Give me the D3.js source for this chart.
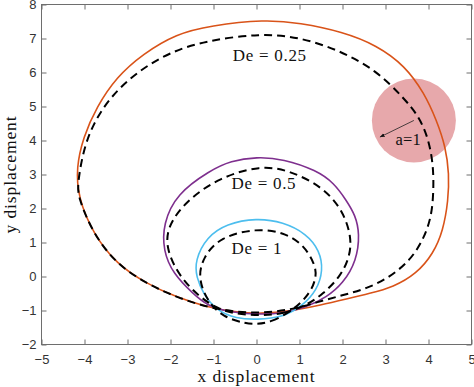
<!DOCTYPE html>
<html><head><meta charset="utf-8">
<script src="https://cdn.jsdelivr.net/npm/d3@7"></script>
<style>body{margin:0;background:#fff} svg{display:block}</style>
</head><body>
<script>
// ---- data ----
const xTicks = [-5,-4,-3,-2,-1,0,1,2,3,4,5];
const yTicks = [-2,-1,0,1,2,3,4,5,6,7,8];
const xLabel = "x displacement";
const yLabel = "y displacement";

// De = 0.25 (solid, orange)
const de025Solid = [[0.1,-1.1],[0.8,-1.02],[1.5,-0.84],[2.1,-0.66],[2.63,-0.5],[3.18,-0.31],[3.72,0.08],[4.11,0.67],[4.34,1.35],[4.46,2.24],[4.48,3.02],[4.4,3.8],[4.19,4.59],[3.9,5.4],[3.45,6.2],[2.8,6.8],[2.0,7.2],[1.0,7.46],[0.2,7.56],[-1.08,7.38],[-1.86,7.14],[-2.64,6.55],[-3.26,5.86],[-3.72,4.98],[-4.03,4.1],[-4.19,3.21],[-4.15,2.33],[-3.8,1.26],[-3.26,0.37],[-2.56,-0.21],[-1.86,-0.61],[-1.16,-0.9],[-0.5,-1.05]];
// De = 0.25 (dashed, black)
const de025Dashed = [[0.1,-1.08],[0.8,-0.98],[1.4,-0.76],[2.0,-0.55],[2.56,-0.36],[3.1,-0.02],[3.57,0.47],[3.87,1.06],[4.07,1.74],[4.12,2.53],[4.11,3.31],[3.99,4.1],[3.76,4.74],[3.41,5.27],[2.79,6.06],[1.94,6.65],[1.0,7.04],[0.1,7.15],[-1.16,6.94],[-2.02,6.6],[-2.79,6.01],[-3.41,5.27],[-3.8,4.49],[-4.03,3.71],[-4.16,2.73],[-4.15,2.33],[-3.8,1.26],[-3.26,0.37],[-2.56,-0.21],[-1.86,-0.61],[-1.16,-0.9],[-0.5,-1.04]];
// De = 0.5 (solid, purple)
const de05Solid = [[0.1,-1.12],[0.62,-1.08],[1.16,-0.9],[1.63,-0.61],[2.01,-0.21],[2.33,0.47],[2.4,1.26],[2.3,1.8],[2.09,2.24],[1.8,2.75],[1.4,3.12],[0.62,3.46],[0.0,3.52],[-0.6,3.4],[-1.08,3.12],[-1.86,2.43],[-2.17,1.55],[-2.17,0.76],[-1.94,0.08],[-1.47,-0.51],[-1.16,-0.85],[-0.6,-1.06]];
// De = 0.5 (dashed, black)
const de05Dashed = [[0.1,-1.15],[0.62,-1.1],[1.16,-0.85],[1.55,-0.51],[1.94,-0.02],[2.17,0.57],[2.21,1.16],[2.01,1.94],[1.55,2.63],[0.77,3.12],[0.1,3.27],[-0.85,2.92],[-1.63,2.24],[-2.09,1.45],[-2.09,0.76],[-1.78,-0.02],[-1.32,-0.61],[-0.9,-0.95],[-0.5,-1.1]];
// De = 1 (solid, cyan)
const de1Solid = [[0.0,-1.27],[0.62,-1.2],[1.08,-0.85],[1.4,-0.41],[1.55,0.18],[1.47,0.76],[1.16,1.26],[0.62,1.6],[0.0,1.72],[-0.7,1.55],[-1.16,1.16],[-1.43,0.47],[-1.4,-0.02],[-1.24,-0.51],[-0.93,-1.0],[-0.47,-1.24]];
// De = 1 (dashed, black)
const de1Dashed = [[0.0,-1.4],[0.31,-1.36],[0.85,-1.0],[1.24,-0.51],[1.4,-0.02],[1.36,0.37],[1.08,0.96],[0.62,1.3],[0.0,1.42],[-0.85,1.16],[-1.24,0.57],[-1.36,-0.02],[-1.16,-0.7],[-0.78,-1.2],[-0.23,-1.39]];

const curveLabels = [{text:"De = 0.25", x:-0.55, y:6.35},{text:"De = 0.5", x:-0.58, y:2.58},{text:"De = 1", x:-0.58, y:0.67}];
const particleCenter = [3.66, 4.59];
const particleRadius = 1;
const arrowEnd = [2.87, 4.1];
const particleLabel = {text:"a=1", x:3.53, y:3.88};

// ---- layout ----
const W = 474, H = 387;
const L = 41.5, R = 471.5, T = 4.5, B = 344.5;
const x = d3.scaleLinear().domain([-5,5]).range([L,R]);
const y = d3.scaleLinear().domain([-2,8]).range([B,T]);

const svg = d3.select("body").append("svg").attr("width",W).attr("height",H);
svg.append("rect").attr("width",W).attr("height",H).attr("fill","#fff");

const axisColor = "#6e6e6e";
const tickFont = "'Liberation Sans', Arial, sans-serif";

function styleAxis(g, showLabels){
  g.select(".domain").remove();
  g.selectAll(".tick line").attr("stroke",axisColor);
  g.selectAll(".tick text").attr("fill","#333").attr("font-family",tickFont).attr("font-size",13);
  if(!showLabels) g.selectAll(".tick text").remove();
}
svg.append("g").attr("transform",`translate(0,${B})`)
  .call(d3.axisBottom(x).tickValues(xTicks).tickSizeInner(-5).tickSizeOuter(0).tickPadding(10).tickFormat(d3.format("d")))
  .call(g=>styleAxis(g,true));
svg.append("g").attr("transform",`translate(0,${T})`)
  .call(d3.axisTop(x).tickValues(xTicks).tickSizeInner(-5).tickSizeOuter(0))
  .call(g=>styleAxis(g,false));
svg.append("g").attr("transform",`translate(${L},0)`)
  .call(d3.axisLeft(y).tickValues(yTicks).tickSizeInner(-5).tickSizeOuter(0).tickPadding(5).tickFormat(d3.format("d")))
  .call(g=>styleAxis(g,true));
svg.append("g").attr("transform",`translate(${R},0)`)
  .call(d3.axisRight(y).tickValues(yTicks).tickSizeInner(-5).tickSizeOuter(0))
  .call(g=>styleAxis(g,false));
svg.append("rect").attr("x",L).attr("y",T).attr("width",R-L).attr("height",B-T)
  .attr("fill","none").attr("stroke",axisColor).attr("stroke-width",1);

// particle
const rPx = x(particleRadius) - x(0);
svg.append("circle").attr("cx",x(particleCenter[0])).attr("cy",y(particleCenter[1])).attr("r",rPx-1)
  .attr("fill","#e7a8ab");

// curves
const line = d3.line().x(d=>x(d[0])).y(d=>y(d[1])).curve(d3.curveBasisClosed);
const series = [
  {data:de025Solid, color:"#d95319", dash:null, w:1.6},
  {data:de05Solid, color:"#7e2f8e", dash:null, w:1.6},
  {data:de1Solid, color:"#4dbeee", dash:null, w:1.6},
  {data:de025Dashed, color:"#000", dash:"8,5", w:2},
  {data:de05Dashed, color:"#000", dash:"8,5", w:2},
  {data:de1Dashed, color:"#000", dash:"8,5", w:2}
];
series.forEach(s=>{
  svg.append("path").attr("d",line(s.data)).attr("fill","none")
    .attr("stroke",s.color).attr("stroke-width",s.w)
    .attr("stroke-dasharray",s.dash);
});

// arrow
svg.append("defs").append("marker").attr("id","ah").attr("viewBox","0 0 10 10")
  .attr("refX",10).attr("refY",5).attr("markerWidth",6).attr("markerHeight",6).attr("orient","auto")
  .append("path").attr("d","M0,1 L10,5 L0,9 Z").attr("fill","#111");
svg.append("line").attr("x1",x(particleCenter[0])).attr("y1",y(particleCenter[1]))
  .attr("x2",x(arrowEnd[0])).attr("y2",y(arrowEnd[1]))
  .attr("stroke","#222").attr("stroke-width",0.8).attr("marker-end","url(#ah)");

const serif = "'Liberation Serif', 'Times New Roman', serif";
svg.append("text").attr("x",x(particleLabel.x)).attr("y",y(particleLabel.y)).attr("text-anchor","middle")
  .attr("font-family",serif).attr("font-size",16.5).attr("letter-spacing",0.3).attr("fill","#111").text(particleLabel.text);

curveLabels.forEach(c=>{
  svg.append("text").attr("x",x(c.x)).attr("y",y(c.y))
    .attr("font-family",serif).attr("font-size",17).attr("letter-spacing",0.7).attr("fill","#111").text(c.text);
});

// axis labels
svg.append("text").attr("x",(L+R)/2).attr("y",381.5).attr("text-anchor","middle")
  .attr("font-family",serif).attr("font-size",17.5).attr("letter-spacing",0.9).attr("fill","#111").text(xLabel);
svg.append("text").attr("transform",`translate(15.5,${(T+B)/2}) rotate(-90)`).attr("text-anchor","middle")
  .attr("font-family",serif).attr("font-size",17.5).attr("letter-spacing",0.9).attr("fill","#111").text(yLabel);
</script>
</body></html>
